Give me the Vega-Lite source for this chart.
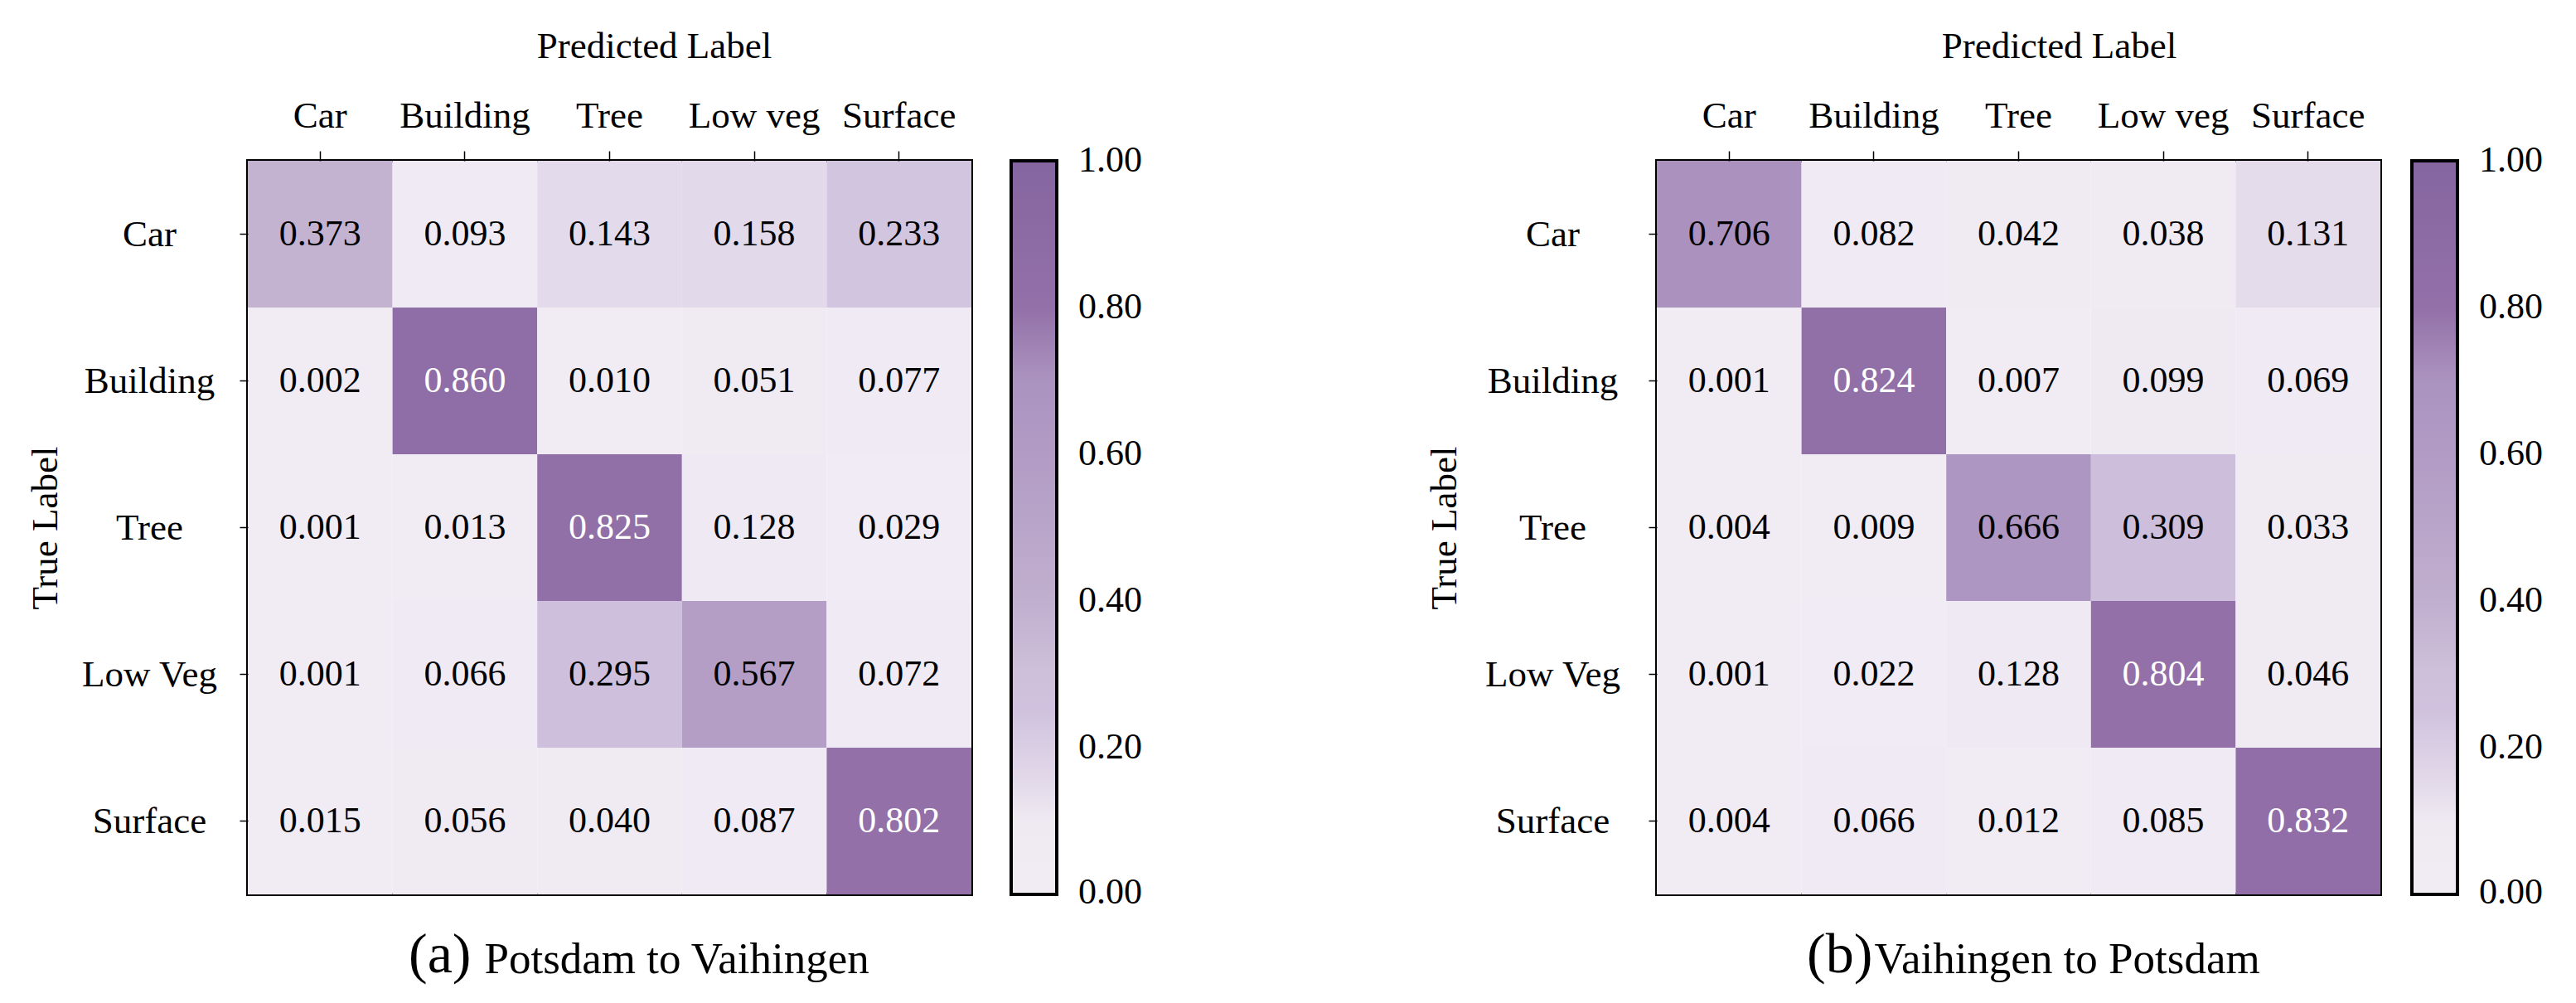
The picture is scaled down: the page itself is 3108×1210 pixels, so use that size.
{
  "$schema": "https://vega.github.io/schema/vega-lite/v6.json",
  "background": "white",
  "padding": {"left": 30, "top": 31, "right": 20, "bottom": 10},
  "config": {
    "font": "Liberation Serif",
    "view": {"stroke": "black", "strokeWidth": 4},
    "axis": {"labelColor": "black", "titleColor": "black", "tickColor": "black", "labelFont": "Liberation Serif", "titleFont": "Liberation Serif", "titleFontWeight": "normal", "grid": false, "domain": false},
    "legend": {"labelFont": "Liberation Serif", "labelColor": "black"},
    "title": {"font": "Liberation Serif", "color": "black", "fontWeight": "normal"}
  },
  "datasets": {
    "pv": [
      {"truth": "Car", "pred": "Car", "v": 0.373},
      {"truth": "Car", "pred": "Building", "v": 0.093},
      {"truth": "Car", "pred": "Tree", "v": 0.143},
      {"truth": "Car", "pred": "Low veg", "v": 0.158},
      {"truth": "Car", "pred": "Surface", "v": 0.233},
      {"truth": "Building", "pred": "Car", "v": 0.002},
      {"truth": "Building", "pred": "Building", "v": 0.860},
      {"truth": "Building", "pred": "Tree", "v": 0.010},
      {"truth": "Building", "pred": "Low veg", "v": 0.051},
      {"truth": "Building", "pred": "Surface", "v": 0.077},
      {"truth": "Tree", "pred": "Car", "v": 0.001},
      {"truth": "Tree", "pred": "Building", "v": 0.013},
      {"truth": "Tree", "pred": "Tree", "v": 0.825},
      {"truth": "Tree", "pred": "Low veg", "v": 0.128},
      {"truth": "Tree", "pred": "Surface", "v": 0.029},
      {"truth": "Low Veg", "pred": "Car", "v": 0.001},
      {"truth": "Low Veg", "pred": "Building", "v": 0.066},
      {"truth": "Low Veg", "pred": "Tree", "v": 0.295},
      {"truth": "Low Veg", "pred": "Low veg", "v": 0.567},
      {"truth": "Low Veg", "pred": "Surface", "v": 0.072},
      {"truth": "Surface", "pred": "Car", "v": 0.015},
      {"truth": "Surface", "pred": "Building", "v": 0.056},
      {"truth": "Surface", "pred": "Tree", "v": 0.040},
      {"truth": "Surface", "pred": "Low veg", "v": 0.087},
      {"truth": "Surface", "pred": "Surface", "v": 0.802}
    ],
    "vp": [
      {"truth": "Car", "pred": "Car", "v": 0.706},
      {"truth": "Car", "pred": "Building", "v": 0.082},
      {"truth": "Car", "pred": "Tree", "v": 0.042},
      {"truth": "Car", "pred": "Low veg", "v": 0.038},
      {"truth": "Car", "pred": "Surface", "v": 0.131},
      {"truth": "Building", "pred": "Car", "v": 0.001},
      {"truth": "Building", "pred": "Building", "v": 0.824},
      {"truth": "Building", "pred": "Tree", "v": 0.007},
      {"truth": "Building", "pred": "Low veg", "v": 0.099},
      {"truth": "Building", "pred": "Surface", "v": 0.069},
      {"truth": "Tree", "pred": "Car", "v": 0.004},
      {"truth": "Tree", "pred": "Building", "v": 0.009},
      {"truth": "Tree", "pred": "Tree", "v": 0.666},
      {"truth": "Tree", "pred": "Low veg", "v": 0.309},
      {"truth": "Tree", "pred": "Surface", "v": 0.033},
      {"truth": "Low Veg", "pred": "Car", "v": 0.001},
      {"truth": "Low Veg", "pred": "Building", "v": 0.022},
      {"truth": "Low Veg", "pred": "Tree", "v": 0.128},
      {"truth": "Low Veg", "pred": "Low veg", "v": 0.804},
      {"truth": "Low Veg", "pred": "Surface", "v": 0.046},
      {"truth": "Surface", "pred": "Car", "v": 0.004},
      {"truth": "Surface", "pred": "Building", "v": 0.066},
      {"truth": "Surface", "pred": "Tree", "v": 0.012},
      {"truth": "Surface", "pred": "Low veg", "v": 0.085},
      {"truth": "Surface", "pred": "Surface", "v": 0.832}
    ]
  },
  "bounds": "flush",
  "spacing": 827,
  "resolve": {"scale": {"color": "independent"}, "legend": {"color": "independent"}},
  "hconcat": [
    {
      "width": 873,
      "height": 885,
      "data": {"name": "pv"},
      "title": {"text": "(a)", "orient": "bottom", "frame": "group", "anchor": "start", "align": "left", "dx": 194, "offset": -11, "fontSize": 68, "baseline": "alphabetic"},
      "resolve": {"axis": {"x": "independent"}},
      "layer": [
        {
          "mark": {"type": "rect"},
          "encoding": {
            "x": {"field": "pred", "type": "nominal", "sort": ["Car", "Building", "Tree", "Low veg", "Surface"], "scale": {"paddingInner": 0, "paddingOuter": 0},
              "axis": {"orient": "top", "title": "Predicted Label", "titleX": 490, "titleY": -125, "titleAlign": "center", "titleBaseline": "alphabetic", "titleFontSize": 45, "labelFontSize": 45, "labelAngle": 0, "labelPadding": 20, "tickSize": 12, "tickWidth": 1.5}},
            "y": {"field": "truth", "type": "nominal", "sort": ["Car", "Building", "Tree", "Low Veg", "Surface"], "scale": {"paddingInner": 0, "paddingOuter": 0},
              "axis": {"orient": "left", "title": "True Label", "titleX": -245, "titleY": 442.5, "titleAngle": -90, "titleAlign": "center", "titleBaseline": "middle", "titleFontSize": 45, "labelFontSize": 45, "labelAlign": "center", "labelBaseline": "middle", "labelPadding": 109, "tickSize": 10, "tickWidth": 1.5}},
            "color": {"field": "v", "type": "quantitative",
              "scale": {"type": "linear", "domain": [0, 0.129, 0.13, 0.16, 0.24, 0.31, 0.373, 0.567, 0.7, 0.8, 1], "range": ["#f1ecf4", "#eee9f2", "#e4dbeb", "#e2d9ea", "#d1c3de", "#cdbfdb", "#c3b2d0", "#b49ec6", "#ab93bf", "#9370a8", "#8565a0"], "interpolate": "rgb"},
              "legend": {"title": null, "orient": "right", "offset": 48, "padding": 0, "direction": "vertical", "gradientLength": 885, "gradientThickness": 55, "gradientStrokeColor": "black", "gradientStrokeWidth": 4, "values": [0, 0.2, 0.4, 0.6, 0.8, 1], "format": ".2f", "labelFontSize": 44, "labelOffset": 26, "labelBaseline": "middle", "labelOverlap": false,
                "encode": {"labels": {"update": {"dy": {"signal": "datum.value >= 1 ? -22 : datum.value <= 0 ? 20 : 0"}}}}}}
          }
        },
        {
          "mark": {"type": "text", "fontSize": 44, "font": "Liberation Serif"},
          "encoding": {
            "x": {"field": "pred", "type": "nominal", "sort": ["Car", "Building", "Tree", "Low veg", "Surface"],
              "axis": {"orient": "bottom", "labels": false, "ticks": false, "title": "Potsdam to Vaihingen", "titleX": 285, "titleY": 94, "titleAlign": "left", "titleBaseline": "alphabetic", "titleFontSize": 53}},
            "y": {"field": "truth", "type": "nominal", "sort": ["Car", "Building", "Tree", "Low Veg", "Surface"],
              "axis": {"orient": "left", "title": "True Label", "titleX": -245, "titleY": 442.5, "titleAngle": -90, "titleAlign": "center", "titleBaseline": "middle", "titleFontSize": 45, "labelFontSize": 45, "labelAlign": "center", "labelBaseline": "middle", "labelPadding": 109, "tickSize": 10, "tickWidth": 1.5}},
            "text": {"field": "v", "type": "quantitative", "format": ".3f"},
            "color": {"condition": {"test": "datum.v > 0.75", "value": "white"}, "value": "black"}
          }
        }
      ]
    },
    {
      "width": 873,
      "height": 885,
      "data": {"name": "vp"},
      "title": {"text": "(b)", "orient": "bottom", "frame": "group", "anchor": "start", "align": "left", "dx": 181, "offset": -11, "fontSize": 68, "baseline": "alphabetic"},
      "resolve": {"axis": {"x": "independent"}},
      "layer": [
        {
          "mark": {"type": "rect"},
          "encoding": {
            "x": {"field": "pred", "type": "nominal", "sort": ["Car", "Building", "Tree", "Low veg", "Surface"], "scale": {"paddingInner": 0, "paddingOuter": 0},
              "axis": {"orient": "top", "title": "Predicted Label", "titleX": 485, "titleY": -125, "titleAlign": "center", "titleBaseline": "alphabetic", "titleFontSize": 45, "labelFontSize": 45, "labelAngle": 0, "labelPadding": 20, "tickSize": 12, "tickWidth": 1.5}},
            "y": {"field": "truth", "type": "nominal", "sort": ["Car", "Building", "Tree", "Low Veg", "Surface"], "scale": {"paddingInner": 0, "paddingOuter": 0},
              "axis": {"orient": "left", "title": "True Label", "titleX": -257, "titleY": 442.5, "titleAngle": -90, "titleAlign": "center", "titleBaseline": "middle", "titleFontSize": 45, "labelFontSize": 45, "labelAlign": "center", "labelBaseline": "middle", "labelPadding": 116, "tickSize": 10, "tickWidth": 1.5}},
            "color": {"field": "v", "type": "quantitative",
              "scale": {"type": "linear", "domain": [0, 0.129, 0.13, 0.16, 0.24, 0.31, 0.373, 0.567, 0.7, 0.8, 1], "range": ["#f1ecf4", "#eee9f2", "#e4dbeb", "#e2d9ea", "#d1c3de", "#cdbfdb", "#c3b2d0", "#b49ec6", "#ab93bf", "#9370a8", "#8565a0"], "interpolate": "rgb"},
              "legend": {"title": null, "orient": "right", "offset": 38, "padding": 0, "direction": "vertical", "gradientLength": 885, "gradientThickness": 55, "gradientStrokeColor": "black", "gradientStrokeWidth": 4, "values": [0, 0.2, 0.4, 0.6, 0.8, 1], "format": ".2f", "labelFontSize": 44, "labelOffset": 26, "labelBaseline": "middle", "labelOverlap": false,
                "encode": {"labels": {"update": {"dy": {"signal": "datum.value >= 1 ? -22 : datum.value <= 0 ? 20 : 0"}}}}}}
          }
        },
        {
          "mark": {"type": "text", "fontSize": 44, "font": "Liberation Serif"},
          "encoding": {
            "x": {"field": "pred", "type": "nominal", "sort": ["Car", "Building", "Tree", "Low veg", "Surface"],
              "axis": {"orient": "bottom", "labels": false, "ticks": false, "title": "Vaihingen to Potsdam", "titleX": 262, "titleY": 94, "titleAlign": "left", "titleBaseline": "alphabetic", "titleFontSize": 53}},
            "y": {"field": "truth", "type": "nominal", "sort": ["Car", "Building", "Tree", "Low Veg", "Surface"],
              "axis": {"orient": "left", "title": "True Label", "titleX": -257, "titleY": 442.5, "titleAngle": -90, "titleAlign": "center", "titleBaseline": "middle", "titleFontSize": 45, "labelFontSize": 45, "labelAlign": "center", "labelBaseline": "middle", "labelPadding": 116, "tickSize": 10, "tickWidth": 1.5}},
            "text": {"field": "v", "type": "quantitative", "format": ".3f"},
            "color": {"condition": {"test": "datum.v > 0.75", "value": "white"}, "value": "black"}
          }
        }
      ]
    }
  ]
}
